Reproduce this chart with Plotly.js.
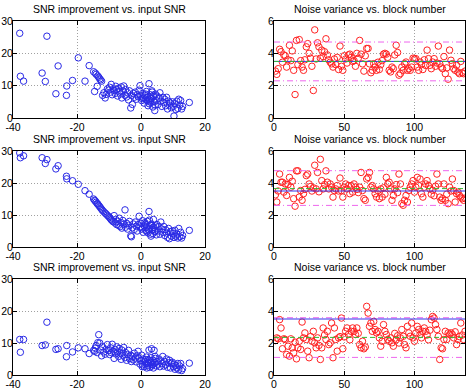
<!DOCTYPE html>
<html><head><meta charset="utf-8">
<script src="https://cdn.plot.ly/plotly-3.0.1.min.js"></script>
<style>html,body{margin:0;padding:0;background:#fff}#chart{width:474px;height:391px}</style>
</head><body><div id="chart"></div>
<script>
// ---- Left column: SNR improvement vs. input SNR ----
const inputSNR = [-37.9,-37.7,-36.7,-30.9,-29.9,-29.4,-26.6,-25.9,-23.3,-23.2,-21.4,-19.6,-17.5,-16.2,
 -14.8,-14.5,-14.3,-14.0,-13.7,-13.5,-13.2,-12.9,-12.6,-12.3,-12.0,-11.6,-11.2,-10.9,-10.5,-10.1,
 -9.8,-9.5,-9.3,-9.0,-8.7,-8.4,-8.1,-7.9,-7.6,-7.3,-7.0,-6.8,-6.5,-6.2,-6.0,-5.7,-5.4,-5.0,-4.8,-4.5,
 -4.2,-3.9,-3.6,-3.2,-3.0,-2.7,-2.4,-2.1,-1.8,-1.5,
 -1.2,-0.9,-0.6,-0.3,0.0,0.2,0.5,0.7,1.0,1.2,1.5,1.7,2.0,2.2,2.5,2.7,2.9,3.1,3.3,3.5,
 3.7,3.9,4.1,4.3,4.5,4.8,5.0,5.3,5.6,5.9,6.2,6.5,6.8,7.1,7.4,7.7,8.0,8.3,8.6,8.9,
 9.2,9.5,9.8,0.4,1.4,2.4,3.4,4.4,3.0,2.6,1.8,3.8,
 10.1,10.3,10.6,10.9,11.2,11.5,11.8,12.1,12.4,12.7,13.0,15.1];
const snrImp1 = [26.2,12.9,11.4,13.9,11.3,25.3,7.5,16.1,7.0,9.9,11.6,18.6,11.4,16.2,
 14.3,8.2,13.9,13.5,9.8,13.0,12.6,12.1,11.8,11.4,7.0,7.8,6.2,7.3,9.0,8.6,
 9.5,8.0,10.4,7.2,9.0,8.5,7.6,9.8,8.8,6.8,9.2,8.1,7.4,9.6,6.2,8.4,9.9,7.0,8.8,6.5,
 7.8,5.6,8.4,3.1,7.0,4.2,7.6,6.4,8.0,5.8,
 7.2,6.6,8.6,10.0,6.8,5.4,7.6,6.2,4.6,7.0,5.8,8.2,6.4,3.8,10.6,5.6,7.2,4.8,6.0,8.0,
 3.4,6.6,5.0,2.3,7.4,5.4,6.8,4.2,6.2,7.8,5.2,3.6,6.4,4.8,5.8,3.8,6.4,2.8,5.2,4.0,
 4.6,3.2,5.0,6.0,7.4,5.2,8.4,4.0,6.0,4.4,5.4,7.0,
 3.6,0.6,4.4,2.6,5.2,3.0,5.8,4.0,5.4,2.8,3.6,4.8];
const snrImp2 = [29.4,27.9,28.5,27.9,26.1,27.3,24.4,25.4,22.1,21.3,20.7,19.6,17.6,16.5,
 15.0,14.6,14.4,14.0,13.6,13.4,13.0,12.6,12.2,11.8,11.4,11.0,10.6,10.3,9.9,9.5,
 9.2,8.8,8.5,8.2,7.9,9.8,7.5,8.6,7.0,8.0,6.8,9.0,6.4,7.6,5.9,8.3,7.1,11.6,6.2,7.4,
 5.6,6.8,8.0,3.5,3.2,6.0,7.2,5.5,7.8,6.5,
 5.0,7.0,9.6,6.2,7.4,5.6,8.2,4.6,6.6,7.6,5.2,6.2,8.0,4.4,11.1,5.8,6.8,3.4,7.2,5.4,
 4.2,8.6,6.0,4.8,6.6,3.8,7.0,5.0,6.4,4.0,7.8,5.6,4.6,6.4,3.6,5.4,4.4,3.0,5.8,2.6,
 4.8,3.4,5.0,6.0,7.2,5.4,6.8,5.0,4.0,8.4,4.8,6.2,
 4.2,3.0,5.2,3.4,4.0,2.8,5.8,3.2,4.6,2.8,3.6,5.2];
const snrImp3 = [11.1,7.1,11.1,9.2,9.4,16.5,8.0,8.2,5.7,9.2,7.2,8.5,8.2,6.7,
 7.7,7.4,8.4,9.2,7.0,10.1,12.6,10.0,7.8,6.0,8.8,7.2,6.5,8.0,9.5,7.6,
 6.4,8.5,7.0,9.6,7.4,5.2,8.0,6.6,8.8,7.2,5.8,8.3,6.9,4.9,7.8,6.2,8.6,5.4,7.0,4.6,
 6.4,7.7,5.1,6.2,4.2,5.8,4.7,6.8,5.3,4.1,
 6.0,7.4,5.2,3.4,4.5,6.2,3.2,5.0,2.6,4.2,3.6,5.6,3.0,4.8,7.8,2.4,4.0,5.4,8.2,3.3,
 4.6,2.2,7.7,3.8,5.2,2.8,4.2,3.4,5.0,2.6,4.4,3.6,5.8,2.8,4.2,3.2,5.0,2.4,3.8,4.6,
 2.2,3.6,4.0,2.6,4.8,3.6,2.8,5.8,3.9,4.6,2.2,3.4,
 2.6,3.4,1.8,3.0,2.2,3.6,1.6,2.8,3.6,1.4,2.0,3.7];

// ---- Right column: noise variance vs. block number ----
const blockNum = [1,2,3,4,5,6,7,8,9,10,11,12,13,14,15,16,17,18,19,20,21,22,23,24,25,26,27,28,29,30,
 31,32,33,34,35,36,37,38,39,40,41,42,43,44,45,46,47,48,49,50,51,52,53,54,55,56,57,58,59,60,
 61,62,63,64,65,66,67,68,69,70,71,72,73,74,75,76,77,78,79,80,81,82,83,84,85,86,87,88,89,90,
 91,92,93,94,95,96,97,98,99,100,101,102,103,104,105,106,107,108,109,110,111,112,113,114,115,
 116,117,118,119,120,121,122,123,124,125,126,127,128,129,130,131,132,133,134,135,136];
const noiseVar1 = [2.9,2.7,3.05,4.25,4.1,3.45,3.9,3.85,3.15,3.6,
 4.5,3.55,4.15,2.95,1.45,4.8,3.3,4.85,3.55,3.15,
 2.95,3.6,4.4,4.6,4.0,3.7,3.2,1.7,5.45,3.65,
 4.65,4.4,3.7,4.2,3.8,4.1,4.9,3.9,3.6,3.45,
 3.35,3.15,3.65,3.3,3.75,3.0,4.45,3.2,2.95,3.85,
 3.65,3.4,3.9,3.95,3.75,3.5,3.55,3.2,4.0,3.7,
 4.8,3.95,3.35,2.9,3.85,4.3,4.3,3.35,2.8,2.95,
 3.36,3.15,2.95,3.45,3.0,3.3,3.55,3.95,4.0,3.95,
 3.75,2.95,2.85,3.15,3.05,3.9,4.5,4.05,2.65,2.75,
 3.15,2.95,3.36,3.46,2.95,3.05,2.95,3.15,3.7,3.65,
 3.67,3.15,2.95,3.46,3.3,3.0,3.6,3.25,4.2,3.67,
 3.26,3.05,3.46,3.67,3.2,3.4,4.45,3.36,3.15,3.05,
 3.8,2.74,3.1,2.4,4.2,3.57,3.36,3.05,2.95,3.26,
 2.84,2.74,3.5,2.8,2.74,2.9];
const noiseVar2 = [3.26,2.81,3.5,4.56,4.05,4.05,3.43,3.94,3.22,3.9,
 4.35,3.74,4.11,3.02,2.55,4.76,4.76,3.12,3.53,2.92,
 3.33,3.6,4.46,4.56,3.94,3.78,3.5,3.7,5.11,3.63,
 4.66,3.45,5.48,4.15,3.63,3.9,4.76,4.05,3.63,3.94,
 3.74,3.12,3.53,3.63,3.84,3.5,4.31,3.53,3.12,3.74,
 3.94,3.63,3.84,3.33,3.84,3.43,3.94,3.74,3.6,3.4,
 3.74,4.66,3.53,3.02,2.92,4.25,4.35,4.66,3.74,3.84,
 3.63,3.33,3.12,3.53,3.02,3.63,3.12,3.7,3.3,4.35,
 3.94,4.05,3.63,2.92,3.22,3.63,3.9,3.4,4.56,3.94,
 2.71,2.61,2.92,3.22,2.81,3.53,3.74,3.94,4.15,3.43,
 3.74,4.35,3.84,4.25,3.33,3.12,3.74,3.94,4.15,3.84,
 3.63,3.3,3.55,3.2,3.8,4.56,3.94,3.12,2.92,3.02,
 3.94,2.92,3.3,2.71,3.74,3.5,4.25,3.53,2.81,3.33,
 3.43,3.22,3.12,3.02,2.92,3.05];
const noiseVar3 = [2.15,2.32,2.26,3.46,2.94,1.64,2.26,2.22,1.28,1.8,
 1.18,2.26,1.7,1.39,2.05,1.01,1.7,2.11,1.6,3.31,
 2.32,2.63,2.22,1.49,1.08,2.4,2.11,2.73,2.01,1.7,
 2.32,1.85,0.97,1.7,2.94,2.5,2.22,2.73,1.9,2.01,
 3.25,1.08,2.94,2.22,1.49,2.32,2.4,3.56,1.64,2.38,
 2.73,2.94,2.53,2.2,2.73,2.94,2.73,2.53,2.94,2.6,
 1.9,1.7,2.11,1.64,1.75,4.29,3.87,3.04,3.25,2.73,
 3.35,2.84,2.63,2.73,2.32,1.8,2.11,3.15,2.73,2.53,
 2.22,2.11,2.32,2.01,1.8,2.6,2.2,2.45,2.0,2.32,
 2.84,2.42,1.9,1.7,3.04,2.63,2.42,3.25,2.32,2.11,
 2.63,3.04,2.84,2.53,2.32,2.73,2.94,2.73,2.5,2.2,
 2.8,3.46,3.66,3.56,3.15,2.84,2.42,0.97,1.7,1.64,
 2.22,2.73,2.22,2.63,2.53,2.63,2.53,2.32,2.7,1.9,
 2.22,2.4,3.25,2.5,2.22,2.73];

// reference levels per right-hand panel
const trueVar = [3.5, 3.5, 3.5];
const meanVar = [3.5, 3.65, 2.35];
const upperVar = [4.7, 4.77, 3.58];
const lowerVar = [2.3, 2.6, 1.1];

const leftTitle = "SNR improvement vs. input SNR";
const rightTitle = "Noise variance vs. block number";
const leftXTicks = [-40, -20, 0, 20];
const leftYTicks = [0, 10, 20, 30];
const rightXTicks = [0, 50, 100];
const rightYTicks = [0, 2, 4, 6];

const W = 474, H = 391;
const colL = [13/W, 205/W], colR = [274/W, 465/W];
const rows = [[1-118/H, 1-21/H], [1-247/H, 1-151/H], [1-375/H, 1-279/H]];

const FONT = {family: "Liberation Sans, Arial, Helvetica, sans-serif", size: 10.5, color: "#000"};
const traces = [];
const layout = {
  width: W, height: H, margin: {l:0, r:0, t:0, b:0},
  paper_bgcolor: "#fff", plot_bgcolor: "#fff", showlegend: false,
  font: FONT, shapes: [], annotations: []
};
function axisCommon(range, tickvals, isY) {
  return {range: range, tickvals: tickvals, ticktext: tickvals.map(String),
    showgrid: true, gridcolor: "#a0a0a0", griddash: "1px,2px", gridwidth: 1,
    zeroline: false, showline: true, mirror: "ticks", linecolor: "#000", linewidth: 1,
    ticks: "inside", ticklen: 4, tickcolor: "#000", tickfont: FONT, fixedrange: true,
    ticklabelstandoff: isY ? -3 : -1};
}
const leftY = [snrImp1, snrImp2, snrImp3];
const rightY = [noiseVar1, noiseVar2, noiseVar3];
for (let r = 0; r < 3; r++) {
  const iL = 2*r + 1, iR = 2*r + 2;
  const sfx = n => (n === 1 ? "" : String(n));
  traces.push({type: "scatter", mode: "markers", x: inputSNR, y: leftY[r],
    xaxis: "x" + sfx(iL), yaxis: "y" + sfx(iL), cliponaxis: true,
    marker: {symbol: "circle-open", size: 6.5, color: "#2a2ae6", line: {width: 1, color: "#2a2ae6"}}});
  traces.push({type: "scatter", mode: "markers", x: blockNum, y: rightY[r],
    xaxis: "x" + sfx(iR), yaxis: "y" + sfx(iR), cliponaxis: true,
    marker: {symbol: "circle-open", size: 6.5, color: "#ff2222", line: {width: 1, color: "#ff2222"}}});
  layout["xaxis" + sfx(iL)] = Object.assign(axisCommon([-40, 20], leftXTicks, false), {domain: colL, anchor: "y" + sfx(iL)});
  layout["yaxis" + sfx(iL)] = Object.assign(axisCommon([0, 30], leftYTicks, true), {domain: rows[r], anchor: "x" + sfx(iL)});
  layout["xaxis" + sfx(iR)] = Object.assign(axisCommon([0, 136], rightXTicks, false), {domain: colR, anchor: "y" + sfx(iR)});
  layout["yaxis" + sfx(iR)] = Object.assign(axisCommon([0, 6], rightYTicks, true), {domain: rows[r], anchor: "x" + sfx(iR)});
  const xr = "x" + sfx(iR) + " domain", yr = "y" + sfx(iR);
  const hline = (v, color, dash) => ({type: "line", xref: xr, yref: yr, x0: 0, x1: 1, y0: v, y1: v,
    line: {color: color, width: 1, dash: dash}, layer: "above"});
  layout.shapes.push(hline(upperVar[r], "#ee66ee", "6px,3px,1px,3px"));
  layout.shapes.push(hline(lowerVar[r], "#ee66ee", "6px,3px,1px,3px"));
  layout.shapes.push(hline(trueVar[r], "#3333ee", "solid"));
  layout.shapes.push(hline(meanVar[r], "#33bb33", "5px,3px"));
  const ytop = rows[r][1];
  layout.annotations.push({text: leftTitle, xref: "paper", yref: "paper", x: (colL[0]+colL[1])/2, y: ytop + 12/H,
    xanchor: "center", yanchor: "middle", showarrow: false, font: FONT});
  layout.annotations.push({text: rightTitle, xref: "paper", yref: "paper", x: (colR[0]+colR[1])/2, y: ytop + 12/H,
    xanchor: "center", yanchor: "middle", showarrow: false, font: FONT});
}
Plotly.newPlot("chart", traces, layout, {staticPlot: true, displayModeBar: false});
</script>
</body></html>
